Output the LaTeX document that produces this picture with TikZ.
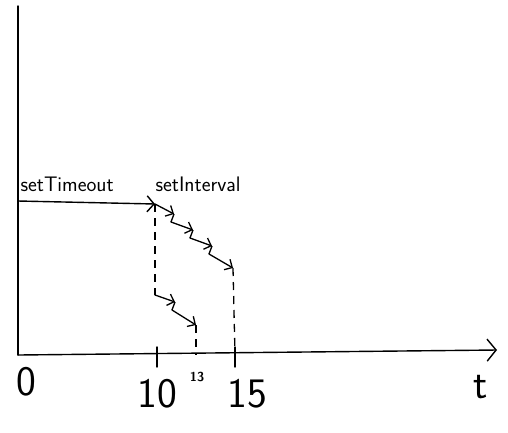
\documentclass[tikz,border=0pt]{standalone}
\usepackage{fontspec}
\usepackage{tikz}
\usetikzlibrary{arrows.meta}

\tikzset{
    axis/.style={line width=1.4pt, line cap=round},
    hop/.style={line width=1.3pt, line cap=round, -{Straight Barb[length=6pt,width=12pt]}},
    wait/.style={line width=1.3pt, dash pattern=on 8pt off 6pt},
    num/.style={font=\sffamily\fontsize{42}{42}\selectfont},
    call/.style={font=\sffamily\fontsize{21}{24}\selectfont, anchor=base west}
}

\begin{document}
\begin{tikzpicture}[x=1pt,y=-1pt]
    \useasboundingbox (0,0) rectangle (508,432);

    % axes
    \coordinate (top) at (18,6);
    \coordinate (O) at (18,355);
    \coordinate (tend) at (497,350);
    \coordinate (x10) at (157,355);
    \coordinate (x13) at (196,355);
    \coordinate (x15) at (235,355);
    \draw[axis] (top)--(O);
    \draw[axis, -{Straight Barb[length=9pt,width=22pt]}] (O)--(tend);
    \draw[axis] (157,347)--(157,367);
    \draw[axis] (235,347)--(235,367);

    \node[num] (l0) at (26,382) {0};
    \node[num] (l10) at (157,394) {10};
    \node[num] (l15) at (247,394) {15};
    \node[num] (lt) at (481,387) {t};
    \node[font=\sffamily\fontsize{13}{13}\selectfont\bfseries] (l13) at (197,377) {13};

    % calls
    \node[call] (timeout) at (17,191) {setTimeout};
    \node[call] (interval) at (152,191) {setInterval};
    \coordinate (start) at (18,201);
    \coordinate (s0) at (155,204);
    \draw[axis, -{Straight Barb[length=7pt,width=16pt]}] (start)--(s0);

    % first interval run
    \coordinate (a1) at (174,214);
    \coordinate (b1) at (171,222);
    \coordinate (a2) at (193,230);
    \coordinate (b2) at (190,238);
    \coordinate (a3) at (212,246);
    \coordinate (b3) at (209,254);
    \coordinate (a4) at (233,268);
    \draw[hop] (s0)--(a1);
    \draw[line width=1.3pt] (a1)--(b1);
    \draw[hop] (b1)--(a2);
    \draw[line width=1.3pt] (a2)--(b2);
    \draw[hop] (b2)--(a3);
    \draw[line width=1.3pt] (a3)--(b3);
    \draw[hop] (b3)--(a4);

    % second interval run
    \coordinate (s1) at (155,295);
    \coordinate (c1) at (175,302);
    \coordinate (d1) at (172,310);
    \coordinate (c2) at (196,325);
    \draw[hop] (s1)--(c1);
    \draw[line width=1.3pt] (c1)--(d1);
    \draw[hop] (d1)--(c2);

    % waiting
    \draw[wait] (s0)--(s1);
    \draw[wait] (c2)--(x13);
    \draw[wait] (a4)--(x15);
\end{tikzpicture}
\end{document}
